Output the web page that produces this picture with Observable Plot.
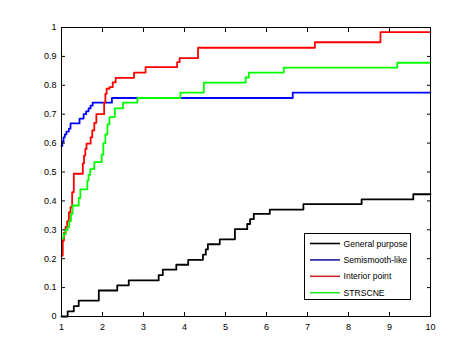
<!DOCTYPE html>
<html><head><meta charset="utf-8">
<script src="https://cdn.jsdelivr.net/npm/d3@7"></script>
<script src="https://cdn.jsdelivr.net/npm/@observablehq/plot@0.6"></script>
<style>
body{margin:0;background:#fff;}
#wrap{position:relative;width:474px;height:355px;}
#legend{position:absolute;left:304px;top:233px;}
</style>
</head><body><div id="wrap"></div>
<script>
const seriesNames = ["General purpose", "Semismooth-like", "Interior point", "STRSCNE"];
const seriesColors = ["#000000", "#0000ff", "#ff0000", "#00ff00"];
const legendColors = ["#000000", "#1c1ca8", "#d02828", "#22e622"];
const xTicks = [1,2,3,4,5,6,7,8,9,10];
const yTicks = [0,0.1,0.2,0.3,0.4,0.5,0.6,0.7,0.8,0.9,1];

const generalX = [1,1.15,1.3,1.42,1.91,2.36,2.64,3.37,3.47,3.8,4.09,4.45,4.52,4.57,4.86,5.23,5.53,5.6,5.69,6.08,6.9,8.32,9.58,10];
const generalY = [0,0.018,0.036,0.055,0.09,0.108,0.125,0.143,0.162,0.179,0.196,0.214,0.232,0.25,0.267,0.302,0.32,0.337,0.355,0.37,0.389,0.405,0.423,0.423];

const semiX = [1,1.02,1.05,1.08,1.12,1.18,1.22,1.44,1.54,1.6,1.66,1.71,1.76,2.23,6.64,10];
const semiY = [0.59,0.605,0.62,0.63,0.64,0.65,0.668,0.685,0.7,0.71,0.72,0.73,0.74,0.756,0.775,0.775];

const interiorX = [1,1.03,1.06,1.1,1.14,1.18,1.22,1.26,1.3,1.52,1.55,1.58,1.61,1.71,1.75,1.8,1.85,2.04,2.07,2.1,2.17,2.25,2.32,2.77,3.05,3.82,3.88,4.33,7.18,8.78,10];
const interiorY = [0.211,0.263,0.29,0.31,0.33,0.36,0.378,0.43,0.494,0.53,0.557,0.58,0.598,0.62,0.644,0.67,0.70,0.74,0.77,0.788,0.794,0.81,0.826,0.844,0.863,0.88,0.894,0.93,0.949,0.984,0.984];

const strscneX = [1,1.05,1.1,1.15,1.19,1.23,1.27,1.42,1.46,1.63,1.66,1.7,1.8,1.98,2.02,2.07,2.12,2.17,2.3,2.5,2.85,3.9,4.47,5.49,5.57,6.42,9.19,10];
const strscneY = [0.27,0.285,0.3,0.31,0.33,0.355,0.384,0.41,0.44,0.47,0.49,0.51,0.534,0.56,0.6,0.63,0.665,0.69,0.72,0.74,0.756,0.775,0.809,0.827,0.844,0.861,0.878,0.878];

const allX = [generalX, semiX, interiorX, strscneX];
const allY = [generalY, semiY, interiorY, strscneY];
const data = [];
seriesNames.forEach((name, i) => {
  allX[i].forEach((x, j) => data.push({series: name, x, y: allY[i][j]}));
});

const chart = Plot.plot({
  width: 474, height: 355,
  marginLeft: 61, marginRight: 44, marginTop: 27, marginBottom: 39,
  style: {fontFamily: "'Liberation Sans', Arial, sans-serif", fontSize: "9px", background: "white", color: "black", overflow: "visible"},
  x: {domain: [1, 10]},
  y: {domain: [0, 1]},
  color: {domain: seriesNames, range: seriesColors},
  marks: [
    Plot.line(data, {x: "x", y: "y", z: "series", stroke: "series", curve: "step-after", strokeWidth: 1.8}),
    Plot.frame({stroke: "black", strokeWidth: 1}),
    Plot.axisX(xTicks, {anchor: "bottom", tickSize: -4, tickPadding: 11, label: null}),
    Plot.axisX(xTicks, {anchor: "top", tickSize: -4, tickFormat: () => "", label: null}),
    Plot.axisY(yTicks, {anchor: "left", tickSize: -4, tickPadding: 9, label: null, tickFormat: d => String(d)}),
    Plot.axisY(yTicks, {anchor: "right", tickSize: -4, tickFormat: () => "", label: null})
  ]
});
const wrap = document.getElementById("wrap");
wrap.appendChild(chart);

// Legend (inside plot area, MATLAB style)
const lg = d3.select(wrap).append("svg")
  .attr("id", "legend")
  .attr("width", 108).attr("height", 68)
  .style("font-family", "'Liberation Sans', Arial, sans-serif")
  .style("font-size", "8.6px");
lg.append("rect").attr("x", 0.5).attr("y", 0.5).attr("width", 106).attr("height", 66)
  .attr("fill", "white").attr("stroke", "black").attr("stroke-width", 1);
seriesNames.forEach((name, i) => {
  const cy = 10.5 + i * 16.4;
  lg.append("line").attr("x1", 6).attr("x2", 36).attr("y1", cy).attr("y2", cy)
    .attr("stroke", legendColors[i]).attr("stroke-width", 1.6);
  lg.append("text").attr("x", 39.5).attr("y", cy).attr("dy", "0.35em")
    .attr("fill", "black").text(name);
});
</script>
</body></html>
